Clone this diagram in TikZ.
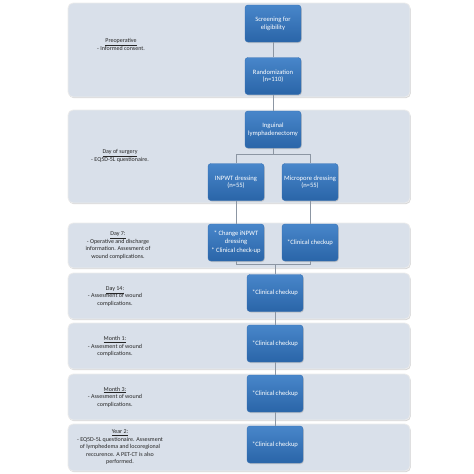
\documentclass[tikz,border=0pt]{standalone}
\usepackage{fontspec}
\setmainfont{Carlito}
\usetikzlibrary{shadows}
\definecolor{panelfill}{HTML}{D9E0EA}
\definecolor{boxtop}{HTML}{4886CA}
\definecolor{boxbot}{HTML}{2A65A8}
\definecolor{boxedge}{HTML}{3470B4}
\definecolor{linecol}{HTML}{8C96A3}
\begin{document}
\begin{tikzpicture}[x=1pt,y=-1pt,
	panel/.style={draw=white!85!gray, line width=0.8pt, fill=panelfill, rounded corners=5pt, minimum width=342pt, drop shadow={shadow xshift=0.8pt, shadow yshift=-1.2pt, fill=black!30}},
	bluebox/.style={draw=boxedge, top color=boxtop, bottom color=boxbot, rounded corners=3pt, minimum width=56pt, minimum height=37pt, inner sep=1pt, align=center, text=white, font=\fontsize{6.6}{7.6}\selectfont, drop shadow={shadow xshift=0.8pt, shadow yshift=-1pt, fill=black!35}},
	note/.style={align=center, text=black!85, font=\fontsize{6}{7.5}\selectfont},
	conn/.style={draw=linecol, line width=0.6pt}]
	\useasboundingbox (0,0) rectangle (474,474);
	\node[panel, minimum height=94pt] (p1) at (239,50) {};
	\node[panel, minimum height=93pt] (p2) at (239,156.5) {};
	\node[panel, minimum height=45pt] (p3) at (239,245.5) {};
	\node[panel, minimum height=46pt] (p4) at (239,296) {};
	\node[panel, minimum height=46pt] (p5) at (239,346) {};
	\node[panel, minimum height=46pt] (p6) at (239,397) {};
	\node[panel, minimum height=47pt] (p7) at (239,447.5) {};
	\node[note] (t1) at (121,44.5) {\underline{Preoperative}\\- Informed consent.};
	\node[note] (t2) at (120,156) {\underline{Day of surgery}\\- EQ5D-5L questionaire.};
	\node[note] (t3) at (118,245.5) {\underline{Day 7:}\\- Operative and discharge\\information. Assesment of\\wound complications.};
	\node[note] (t4) at (115,296.5) {\underline{Day 14:}\\- Assesment of wound\\complications.};
	\node[note] (t5) at (115,346.5) {\underline{Month 1:}\\- Assesment of wound\\complications.};
	\node[note] (t6) at (115,397) {\underline{Month 3:}\\- Assesment of wound\\complications.};
	\node[note] (t7) at (120,447.5) {\underline{Year 2:}\\- EQ5D-5L questionaire. Assesment\\of lymphedema and locoregional\\reccurence. A PET-CT is also\\performed.};
	\node[bluebox] (screen) at (273,23.5) {Screening for\\eligibility};
	\node[bluebox] (rand) at (273,76) {Randomization\\(n=110)};
	\node[bluebox] (ingu) at (273,129.5) {Inguinal\\lymphadenectomy};
	\node[bluebox] (inpwt) at (236,182) {INPWT dressing\\(n=55)};
	\node[bluebox] (micro) at (310,182) {Micropore dressing\\(n=55)};
	\node[bluebox] (chg) at (236,242.5) {* Change iNPWT\\dressing\\[2pt]* Clinical check-up};
	\node[bluebox] (chk7) at (310,242.5) {*Clinical checkup};
	\node[bluebox] (d14) at (275,293) {*Clinical checkup};
	\node[bluebox] (m1) at (275,343.5) {*Clinical checkup};
	\node[bluebox] (m3) at (275,393.5) {*Clinical checkup};
	\node[bluebox] (y2) at (275,444.5) {*Clinical checkup};
	\coordinate (split) at (273,154);
	\coordinate (join) at (275,264);
	\draw[conn] (screen) -- (rand);
	\draw[conn] (rand) -- (ingu);
	\draw[conn] (ingu.south) -- (split);
	\draw[conn] (split) -| (inpwt.north);
	\draw[conn] (split) -| (micro.north);
	\draw[conn] (inpwt) -- (chg);
	\draw[conn] (micro) -- (chk7);
	\draw[conn] (chg.south) |- (join);
	\draw[conn] (chk7.south) |- (join);
	\draw[conn] (join) -- (d14.north);
	\draw[conn] (d14) -- (m1);
	\draw[conn] (m1) -- (m3);
	\draw[conn] (m3) -- (y2);
\end{tikzpicture}
\end{document}
